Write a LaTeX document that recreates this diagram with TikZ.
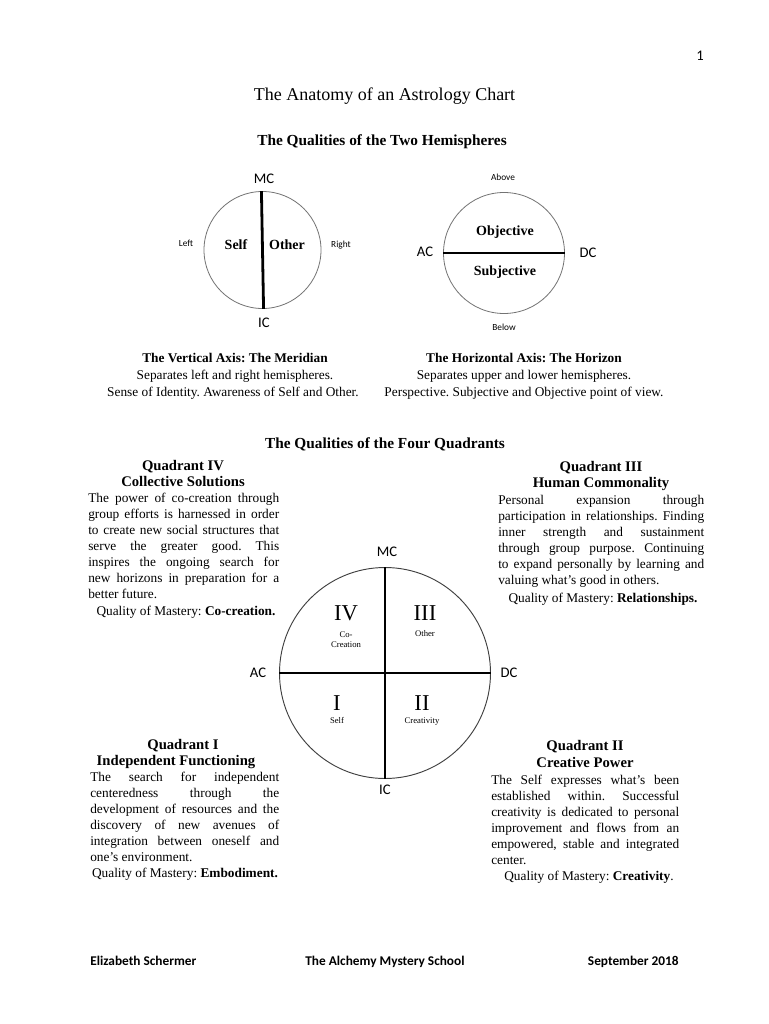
\documentclass[tikz,border=0pt]{standalone}
\usepackage{fontspec}
\setmainfont{Liberation Serif}
\newfontfamily\calib{Carlito}
\newcommand\jl[2]{\makebox[#1][s]{#2}}
\frenchspacing
\begin{document}
\begin{tikzpicture}[x=0.75pt,y=-0.75pt,
  lbl/.style={font=\calib\fontsize{11}{13}\selectfont, inner sep=0pt},
  tinylbl/.style={font=\calib\fontsize{7}{8}\selectfont, inner sep=0pt},
  hemi/.style={font=\fontsize{10.5}{12}\selectfont\bfseries, inner sep=0pt},
  roman/.style={font=\fontsize{17}{20}\selectfont, inner sep=0pt},
  qsmall/.style={font=\fontsize{6.5}{7.5}\selectfont, inner sep=0pt, align=center},
  capt/.style={font=\fontsize{10}{12}\selectfont\bfseries, inner sep=0pt, anchor=base},
  body/.style={font=\fontsize{10}{12}\selectfont, inner sep=0pt, anchor=base},
  bodyl/.style={body, anchor=base west},
  qhead/.style={font=\fontsize{11}{12}\selectfont\bfseries, inner sep=0pt, anchor=base},
  ring/.style={circle, draw=black!55, line width=0.6pt, inner sep=0pt},
  axis/.style={line width=2.1pt, black},
  foot/.style={font=\calib\fontsize{10}{12}\selectfont\bfseries, inner sep=0pt, anchor=base},
]
\path[use as bounding box, fill=white] (0,0) rectangle (768,1024);

% page number and titles
\node[font=\calib\fontsize{11}{13}\selectfont, anchor=base, inner sep=0pt] (pg) at (700,61) {1};
\node[font=\fontsize{13.5}{16}\selectfont, anchor=base, inner sep=0pt] (title) at (384.5,100) {The Anatomy of an Astrology Chart};
\node[font=\fontsize{11.5}{14}\selectfont\bfseries, anchor=base, inner sep=0pt] (sub1) at (382,145) {The Qualities of the Two Hemispheres};

% circle 1 : meridian
\node[ring, minimum size=87.75pt] (c1) at (262.5,250) {};
\draw[axis] ([xshift=-0.8pt]c1.north) -- ([xshift=0.8pt]c1.south);
\node[lbl] (c1mc) at (264,179) {MC};
\node[lbl] (c1ic) at (264,323) {IC};
\node[tinylbl] (c1l) at (186,243) {Left};
\node[tinylbl] (c1r) at (341,245) {Right};
\node[hemi] (c1s) at (236,245) {Self};
\node[hemi] (c1o) at (287,245) {Other};

% circle 2 : horizon
\node[ring, minimum size=90.75pt] (c2) at (504,253) {};
\draw[axis] (c2.west) -- (c2.east);
\node[tinylbl] (c2a) at (503,177) {Above};
\node[tinylbl] (c2b) at (504,327) {Below};
\node[lbl] (c2ac) at (425,252) {AC};
\node[lbl] (c2dc) at (588,253) {DC};
\node[hemi] (c2ob) at (505,232) {Objective};
\node[hemi] (c2sb) at (505,272) {Subjective};

% captions
\node[capt] (cap1) at (235,362) {The Vertical Axis: The Meridian};
\node[body] (cap1a) at (235,379) {Separates left and right hemispheres.};
\node[body] (cap1b) at (233,396) {Sense of Identity. Awareness of Self and Other.};
\node[capt] (cap2) at (524,362) {The Horizontal Axis: The Horizon};
\node[body] (cap2a) at (524,379) {Separates upper and lower hemispheres.};
\node[body] (cap2b) at (524,396) {Perspective. Subjective and Objective point of view.};

\node[font=\fontsize{11.5}{14}\selectfont\bfseries, anchor=base, inner sep=0pt] (sub2) at (385,448) {The Qualities of the Four Quadrants};

% big chart
\node[ring, draw=black!75, line width=0.7pt, minimum size=158.25pt] (c3) at (385,673) {};
\draw[axis] (c3.north) -- (c3.south);
\draw[axis] (c3.west) -- (c3.east);
\node[lbl] (c3mc) at (387,552) {MC};
\node[lbl] (c3ic) at (385,790) {IC};
\node[lbl] (c3ac) at (258,673) {AC};
\node[lbl] (c3dc) at (509,673) {DC};
\node[roman] (r4) at (346,613) {IV};
\node[qsmall] (r4t) at (346,640) {Co-\\Creation};
\node[roman] (r3) at (425,613) {III};
\node[qsmall] (r3t) at (425,634) {Other};
\node[roman] (r1) at (337,703) {I};
\node[qsmall] (r1t) at (337,720) {Self};
\node[roman] (r2) at (422,703) {II};
\node[qsmall] (r2t) at (422,722) {Creativity};

% Quadrant IV
\node[qhead] (q4h1) at (183,470) {Quadrant IV};
\node[qhead] (q4h2) at (183,486) {Collective Solutions};
\node[bodyl] (q4b1) at (88,502) {\jl{143.25pt}{The power of co-creation through}};
\node[bodyl] (q4b2) at (88,518) {\jl{143.25pt}{group efforts is harnessed in order}};
\node[bodyl] (q4b3) at (88,534) {\jl{143.25pt}{to create new social structures that}};
\node[bodyl] (q4b4) at (88,550) {\jl{143.25pt}{serve the greater good. This}};
\node[bodyl] (q4b5) at (88,566) {\jl{143.25pt}{inspires the ongoing search for}};
\node[bodyl] (q4b6) at (88,582) {\jl{143.25pt}{new horizons in preparation for a}};
\node[bodyl] (q4b7) at (88,598) {better future.};
\node[body] (q4m) at (186,615) {Quality of Mastery: \textbf{Co-creation.}};

% Quadrant III
\node[qhead] (q3h1) at (601,471) {Quadrant III};
\node[qhead] (q3h2) at (601,487) {Human Commonality};
\node[bodyl] (q3b1) at (498,504) {\jl{154.5pt}{Personal expansion through}};
\node[bodyl] (q3b2) at (498,520) {\jl{154.5pt}{participation in relationships. Finding}};
\node[bodyl] (q3b3) at (498,536) {\jl{154.5pt}{inner strength and sustainment}};
\node[bodyl] (q3b4) at (498,552) {\jl{154.5pt}{through group purpose. Continuing}};
\node[bodyl] (q3b5) at (498,568) {\jl{154.5pt}{to expand personally by learning and}};
\node[bodyl] (q3b6) at (498,584) {valuing what's good in others.};
\node[body] (q3m) at (603,602) {Quality of Mastery: \textbf{Relationships.}};

% Quadrant I
\node[qhead] (q1h1) at (183,749) {Quadrant I};
\node[qhead] (q1h2) at (176,765) {Independent Functioning};
\node[bodyl] (q1b1) at (90,781) {\jl{141.75pt}{The search for independent}};
\node[bodyl] (q1b2) at (90,797) {\jl{141.75pt}{centeredness through the}};
\node[bodyl] (q1b3) at (90,813) {\jl{141.75pt}{development of resources and the}};
\node[bodyl] (q1b4) at (90,829) {\jl{141.75pt}{discovery of new avenues of}};
\node[bodyl] (q1b5) at (90,845) {\jl{141.75pt}{integration between oneself and}};
\node[bodyl] (q1b6) at (90,861) {one's environment.};
\node[body] (q1m) at (185,877) {Quality of Mastery: \textbf{Embodiment.}};

% Quadrant II
\node[qhead] (q2h1) at (585,750) {Quadrant II};
\node[qhead] (q2h2) at (585,767) {Creative Power};
\node[bodyl] (q2b1) at (491,784) {\jl{141pt}{The Self expresses what's been}};
\node[bodyl] (q2b2) at (491,800) {\jl{141pt}{established within. Successful}};
\node[bodyl] (q2b3) at (491,816) {\jl{141pt}{creativity is dedicated to personal}};
\node[bodyl] (q2b4) at (491,832) {\jl{141pt}{improvement and flows from an}};
\node[bodyl] (q2b5) at (491,848) {\jl{141pt}{empowered, stable and integrated}};
\node[bodyl] (q2b6) at (491,864) {center.};
\node[body] (q2m) at (589,880) {Quality of Mastery: \textbf{Creativity}.};

% footer
\node[foot, anchor=base west] (f1) at (90,965) {Elizabeth Schermer};
\node[foot] (f2) at (385,965) {The Alchemy Mystery School};
\node[foot, anchor=base east] (f3) at (679,965) {September 2018};
\end{tikzpicture}
\end{document}
